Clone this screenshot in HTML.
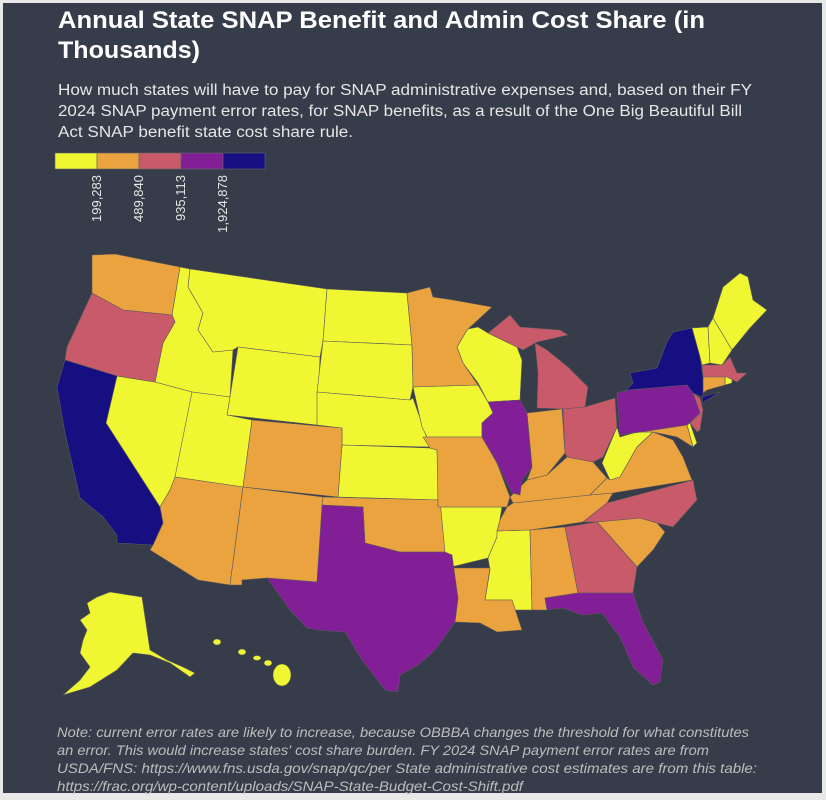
<!DOCTYPE html>
<html><head><meta charset="utf-8"><style>
html,body{margin:0;padding:0;background:#fff;}
svg{display:block;}
text{font-family:"Liberation Sans",sans-serif;}
</style></head><body>
<svg width="826" height="800" viewBox="0 0 826 800" xmlns="http://www.w3.org/2000/svg">
<rect x="0" y="0" width="826" height="800" fill="#e8e8e8"/>
<rect x="3" y="3" width="819" height="790" fill="#373c4a"/>
<text x="58" y="28" fill="#fff" font-size="24" font-weight="bold" textLength="647" lengthAdjust="spacingAndGlyphs">Annual State SNAP Benefit and Admin Cost Share (in</text>
<text x="58" y="58" fill="#fff" font-size="24" font-weight="bold" textLength="142" lengthAdjust="spacingAndGlyphs">Thousands)</text>
<g fill="#e6e6e6" font-size="15.5">
<text x="58" y="95" textLength="694" lengthAdjust="spacingAndGlyphs">How much states will have to pay for SNAP administrative expenses and, based on their FY</text>
<text x="58" y="116" textLength="684" lengthAdjust="spacingAndGlyphs">2024 SNAP payment error rates, for SNAP benefits, as a result of the One Big Beautiful Bill</text>
<text x="58" y="137" textLength="295" lengthAdjust="spacingAndGlyphs">Act SNAP benefit state cost share rule.</text>
</g>
<g stroke="#666" stroke-width="0.6">
<rect x="55" y="153" width="42" height="16" fill="#f0f632"/>
<rect x="97" y="153" width="42" height="16" fill="#eaa33e"/>
<rect x="139" y="153" width="42" height="16" fill="#c95a6a"/>
<rect x="181" y="153" width="42" height="16" fill="#821e96"/>
<rect x="223" y="153" width="42" height="16" fill="#150f82"/>
</g>
<g fill="#e6e6e6" font-size="13">
<text transform="translate(101,175) rotate(-90)" text-anchor="end">199,283</text>
<text transform="translate(143,175) rotate(-90)" text-anchor="end">489,840</text>
<text transform="translate(185,175) rotate(-90)" text-anchor="end">935,113</text>
<text transform="translate(227,175) rotate(-90)" text-anchor="end">1,924,878</text>
</g>
<g stroke="#5a5a5a" stroke-width="0.6" stroke-linejoin="round">
<!-- yellow -->
<g fill="#f0f632">
<polygon points="180,267 190,269 188,287 203,313 198,330 213,352 233,350 230,397 192,392 155,382 163,343 175,322 172,315"/>
<polygon points="190,269 327,289 323,341 320,357 238,347 233,350 213,352 198,330 203,313 188,287"/>
<polygon points="238,347 320,357 317,425 227,415"/>
<polygon points="117,376 155,382 192,392 177,477 170,490 160,507 106,423"/>
<polygon points="192,392 230,397 227,415 252,420 243,487 175,477"/>
<polygon points="327,289 407,293 412,345 323,341"/>
<polygon points="323,341 412,345 413,387 410,400 317,392"/>
<polygon points="317,392 410,400 413,398 430,447 342,445 342,428 317,425"/>
<polygon points="342,445 430,448 437,450 440,500 338,497"/>
<polygon points="463,330 478,327 488,333 517,347 522,360 520,400 488,402 478,383 463,363 457,347 467,330"/>
<polygon points="413,387 478,385 488,402 493,413 482,423 482,437 427,437 422,427"/>
<polygon points="438,507 502,507 497,537 488,558 447,568 443,555"/>
<polygon points="497,531 530,530 532,610 513,610 512,600 485,600 490,570 488,558 497,537"/>
<polygon points="602,463 617,427 620,437 637,432 653,432 637,447 620,477 610,480"/>
<polygon points="687,425 690,423 697,443 693,447"/>
<polygon points="692,328 708,327 710,363 702,365 700,357"/>
<polygon points="708,327 713,318 732,350 722,365 710,363"/>
<polygon points="713,318 723,287 740,273 748,277 753,300 767,310 750,328 732,350"/>
<polygon points="725,375 732,376 732,383 725,385"/>
<polygon points="110,592 142,597 150,650 167,660 183,667 195,673 190,677 170,663 150,655 133,653 117,670 90,687 63,695 80,680 90,667 80,653 83,640 87,630 80,620 90,613 87,603 97,597"/>
<ellipse cx="282" cy="675" rx="9" ry="11"/>
<ellipse cx="217" cy="642" rx="4" ry="3"/>
<ellipse cx="242" cy="652" rx="4" ry="3"/>
<ellipse cx="257" cy="658" rx="4" ry="2.5"/>
<ellipse cx="268" cy="663" rx="4" ry="3"/>
</g>
<!-- orange -->
<g fill="#eaa33e">
<polygon points="92,255 115,254 180,267 172,315 123,310 92,293"/>
<polygon points="252,420 342,428 342,445 338,497 243,487"/>
<polygon points="175,477 243,487 230,585 198,580 150,550 153,545 163,523 160,507 170,490"/>
<polygon points="243,487 323,497 317,582 267,578 242,580 242,585 230,585"/>
<polygon points="323,497 440,500 445,552 400,552 365,543 363,507 322,505"/>
<polygon points="407,293 430,287 433,297 453,300 492,307 467,330 457,347 463,363 478,385 413,387 412,345"/>
<polygon points="423,437 482,437 497,463 510,497 507,507 438,507 437,450 430,448"/>
<polygon points="447,568 490,568 485,600 512,600 522,630 497,632 480,623 455,622 458,598"/>
<polygon points="530,530 565,527 578,593 545,598 547,610 532,610"/>
<polygon points="597,522 640,518 657,523 665,532 653,550 637,567 607,533"/>
<polygon points="507,507 513,503 590,495 613,493 607,503 583,522 530,530 497,531 500,520"/>
<polygon points="510,497 527,480 547,475 567,457 593,462 607,478 590,495 513,503"/>
<polygon points="527,413 562,409 565,453 547,475 527,480 532,467"/>
<polygon points="610,480 620,477 637,447 653,432 673,440 683,457 692,480 613,493 590,495 607,478"/>
<polygon points="620,435 687,425 693,447 677,437 653,432 637,432"/>
<polygon points="703,377 725,375 725,385 707,390 703,393"/>
</g>
<!-- red -->
<g fill="#c95a6a">
<polygon points="92,293 123,310 172,315 175,322 163,343 155,382 117,376 65,360 67,347"/>
<polygon points="535,343 547,350 568,367 588,387 585,407 563,409 537,408 538,373"/>
<polygon points="488,333 510,315 520,327 560,330 568,335 537,342 523,350 517,347"/>
<polygon points="563,409 585,407 615,398 617,427 603,457 593,462 567,457 565,453"/>
<polygon points="565,527 597,522 607,533 637,567 633,593 620,593 578,593"/>
<polygon points="583,522 607,503 693,480 697,500 673,527 657,523 640,518 597,522"/>
<polygon points="693,393 700,398 703,410 700,430 697,432 690,423 700,413"/>
<polygon points="702,365 722,365 730,357 737,373 747,373 737,382 727,377 703,377"/>
</g>
<!-- purple -->
<g fill="#821e96">
<polygon points="322,505 363,507 365,543 400,552 445,552 452,555 458,598 455,622 435,650 418,665 400,675 398,692 385,690 362,660 345,632 317,630 307,628 290,610 267,578 317,582"/>
<polygon points="488,402 520,400 527,413 532,467 522,480 520,495 512,493 497,463 482,437 482,423 493,413"/>
<polygon points="545,598 578,593 620,593 633,593 642,620 663,660 660,682 653,685 633,667 620,637 602,613 582,615 563,608 547,610"/>
<polygon points="617,393 628,390 687,385 693,393 700,413 687,425 620,435"/>
</g>
<!-- navy -->
<g fill="#150f82">
<polygon points="65,360 117,376 106,423 160,507 163,523 153,545 117,543 117,535 103,517 80,498 65,433 57,387"/>
<polygon points="623,393 633,383 630,373 657,368 667,342 673,332 692,328 700,357 703,377 703,393 702,403 720,392 702,397 693,393 687,385 628,390"/>
</g>
</g>
<g fill="#bdbdbd" font-size="14" font-style="italic">
<text x="57" y="737" textLength="692" lengthAdjust="spacingAndGlyphs">Note: current error rates are likely to increase, because OBBBA changes the threshold for what constitutes</text>
<text x="57" y="755" textLength="652" lengthAdjust="spacingAndGlyphs">an error. This would increase states' cost share burden. FY 2024 SNAP payment error rates are from</text>
<text x="57" y="773" textLength="700" lengthAdjust="spacingAndGlyphs">USDA/FNS: https://www.fns.usda.gov/snap/qc/per State administrative cost estimates are from this table:</text>
<text x="57" y="791" textLength="466" lengthAdjust="spacingAndGlyphs">https://frac.org/wp-content/uploads/SNAP-State-Budget-Cost-Shift.pdf</text>
</g>
</svg>
</body></html>
